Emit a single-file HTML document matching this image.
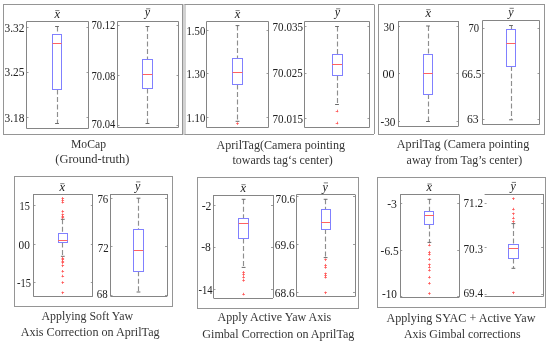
<!DOCTYPE html>
<html><head><meta charset="utf-8"><title>Box plots</title>
<style>html,body{margin:0;padding:0;background:#fff;}svg{display:block;}text{font-family:"Liberation Serif", "DejaVu Serif", serif;}</style>
</head><body>
<svg width="550" height="345" viewBox="0 0 550 345">
<rect x="0" y="0" width="550" height="345" fill="#fff"/>
<rect x="3.5" y="4.5" width="179.0" height="130.0" stroke="#959595" stroke-width="1" fill="none"/>
<line x1="26.5" y1="21.5" x2="88.5" y2="21.5" stroke="#858585" stroke-width="1" />
<line x1="26.5" y1="128.5" x2="88.5" y2="128.5" stroke="#858585" stroke-width="1" />
<line x1="88.5" y1="21.5" x2="88.5" y2="128.5" stroke="#858585" stroke-width="1" />
<line x1="26.5" y1="21.5" x2="26.5" y2="128.5" stroke="#858585" stroke-width="1" />
<line x1="26.5" y1="27.5" x2="28.5" y2="27.5" stroke="#858585" stroke-width="0.8" />
<line x1="86.5" y1="27.5" x2="88.5" y2="27.5" stroke="#858585" stroke-width="0.8" />
<line x1="26.5" y1="72.5" x2="28.5" y2="72.5" stroke="#858585" stroke-width="0.8" />
<line x1="86.5" y1="72.5" x2="88.5" y2="72.5" stroke="#858585" stroke-width="0.8" />
<line x1="26.5" y1="117.5" x2="28.5" y2="117.5" stroke="#858585" stroke-width="0.8" />
<line x1="86.5" y1="117.5" x2="88.5" y2="117.5" stroke="#858585" stroke-width="0.8" />
<text x="57.2" y="17.6" font-size="12.5" font-style="italic" text-anchor="middle" fill="#222222">x</text>
<line x1="55.2" y1="10.600000000000001" x2="59.400000000000006" y2="10.600000000000001" stroke="#444" stroke-width="0.7" />
<text x="4.5" y="31.5" font-size="13.5" textLength="20.0" lengthAdjust="spacingAndGlyphs" fill="#222222" >3.32</text>
<text x="4.5" y="75.8" font-size="13.5" textLength="20.0" lengthAdjust="spacingAndGlyphs" fill="#222222" >3.25</text>
<text x="4.5" y="121.8" font-size="13.5" textLength="20.0" lengthAdjust="spacingAndGlyphs" fill="#222222" >3.18</text>
<line x1="57.5" y1="26.5" x2="57.5" y2="34.5" stroke="#8e8e8e" stroke-width="1.15" stroke-dasharray="5,2.5"/>
<line x1="57.5" y1="89.5" x2="57.5" y2="123.5" stroke="#8e8e8e" stroke-width="1.15" stroke-dasharray="5,2.5"/>
<line x1="55.1" y1="26.5" x2="58.9" y2="26.5" stroke="#6a6a6a" stroke-width="1" />
<line x1="55.1" y1="123.5" x2="58.9" y2="123.5" stroke="#6a6a6a" stroke-width="1" />
<rect x="52.5" y="34.5" width="9.0" height="55.0" stroke="#8080ff" stroke-width="1" fill="none"/>
<line x1="52.5" y1="43.5" x2="61.5" y2="43.5" stroke="#ff6262" stroke-width="1" />
<line x1="117.5" y1="21.5" x2="178.5" y2="21.5" stroke="#858585" stroke-width="1" />
<line x1="117.5" y1="127.5" x2="178.5" y2="127.5" stroke="#858585" stroke-width="1" />
<line x1="178.5" y1="21.5" x2="178.5" y2="127.5" stroke="#858585" stroke-width="1" />
<line x1="117.5" y1="21.5" x2="117.5" y2="127.5" stroke="#858585" stroke-width="1" />
<line x1="117.5" y1="25.5" x2="119.5" y2="25.5" stroke="#858585" stroke-width="0.8" />
<line x1="176.5" y1="25.5" x2="178.5" y2="25.5" stroke="#858585" stroke-width="0.8" />
<line x1="117.5" y1="75.5" x2="119.5" y2="75.5" stroke="#858585" stroke-width="0.8" />
<line x1="176.5" y1="75.5" x2="178.5" y2="75.5" stroke="#858585" stroke-width="0.8" />
<line x1="117.5" y1="125.5" x2="119.5" y2="125.5" stroke="#858585" stroke-width="0.8" />
<line x1="176.5" y1="125.5" x2="178.5" y2="125.5" stroke="#858585" stroke-width="0.8" />
<text x="147.5" y="16.4" font-size="12" font-style="italic" text-anchor="middle" fill="#222222">y</text>
<line x1="146.1" y1="8.799999999999999" x2="150.3" y2="8.799999999999999" stroke="#444" stroke-width="0.7" />
<text x="91.6" y="29.0" font-size="13.5" textLength="23.7" lengthAdjust="spacingAndGlyphs" fill="#222222" >70.12</text>
<text x="91.6" y="79.6" font-size="13.5" textLength="23.7" lengthAdjust="spacingAndGlyphs" fill="#222222" >70.08</text>
<text x="91.6" y="128.4" font-size="13.5" textLength="23.7" lengthAdjust="spacingAndGlyphs" fill="#222222" >70.04</text>
<line x1="147.5" y1="26.5" x2="147.5" y2="59" stroke="#8e8e8e" stroke-width="1.15" stroke-dasharray="5,2.5"/>
<line x1="147.5" y1="88.5" x2="147.5" y2="123.5" stroke="#8e8e8e" stroke-width="1.15" stroke-dasharray="5,2.5"/>
<line x1="145.6" y1="26.5" x2="149.4" y2="26.5" stroke="#6a6a6a" stroke-width="1" />
<line x1="145.6" y1="123.5" x2="149.4" y2="123.5" stroke="#6a6a6a" stroke-width="1" />
<rect x="142.5" y="59.5" width="10.0" height="29.0" stroke="#8080ff" stroke-width="1" fill="none"/>
<line x1="142.7" y1="74.5" x2="152.3" y2="74.5" stroke="#ff6262" stroke-width="1" />
<text x="71.0" y="147.7" font-size="13.5" textLength="35.0" lengthAdjust="spacingAndGlyphs" fill="#353535" >MoCap</text>
<text x="55.3" y="163.0" font-size="13.5" textLength="74.1" lengthAdjust="spacingAndGlyphs" fill="#353535" >(Ground-truth)</text>
<rect x="183" y="4" width="3" height="131" fill="#d2d2d2"/>
<line x1="184.5" y1="4.5" x2="374" y2="4.5" stroke="#959595" stroke-width="1" />
<line x1="374.5" y1="4.5" x2="374.5" y2="134" stroke="#959595" stroke-width="1" />
<line x1="184.5" y1="134.5" x2="374" y2="134.5" stroke="#959595" stroke-width="1" />
<line x1="206.5" y1="21.5" x2="268.5" y2="21.5" stroke="#858585" stroke-width="1" />
<line x1="206.5" y1="127.5" x2="268.5" y2="127.5" stroke="#858585" stroke-width="1" />
<line x1="268.5" y1="21.5" x2="268.5" y2="127.5" stroke="#858585" stroke-width="1" />
<line x1="206.5" y1="21.5" x2="206.5" y2="127.5" stroke="#858585" stroke-width="1" />
<line x1="206.5" y1="30.5" x2="208.5" y2="30.5" stroke="#858585" stroke-width="0.8" />
<line x1="266.5" y1="30.5" x2="268.5" y2="30.5" stroke="#858585" stroke-width="0.8" />
<line x1="206.5" y1="73.5" x2="208.5" y2="73.5" stroke="#858585" stroke-width="0.8" />
<line x1="266.5" y1="73.5" x2="268.5" y2="73.5" stroke="#858585" stroke-width="0.8" />
<line x1="206.5" y1="117.5" x2="208.5" y2="117.5" stroke="#858585" stroke-width="0.8" />
<line x1="266.5" y1="117.5" x2="268.5" y2="117.5" stroke="#858585" stroke-width="0.8" />
<text x="237.5" y="17.6" font-size="12.5" font-style="italic" text-anchor="middle" fill="#222222">x</text>
<line x1="235.5" y1="10.600000000000001" x2="239.7" y2="10.600000000000001" stroke="#444" stroke-width="0.7" />
<text x="186.5" y="35.0" font-size="13.5" textLength="18.8" lengthAdjust="spacingAndGlyphs" fill="#222222" >1.50</text>
<text x="186.5" y="78.0" font-size="13.5" textLength="18.8" lengthAdjust="spacingAndGlyphs" fill="#222222" >1.30</text>
<text x="186.5" y="122.0" font-size="13.5" textLength="18.8" lengthAdjust="spacingAndGlyphs" fill="#222222" >1.10</text>
<line x1="237.5" y1="25.6" x2="237.5" y2="58.5" stroke="#8e8e8e" stroke-width="1.15" stroke-dasharray="5,2.5"/>
<line x1="237.5" y1="84.5" x2="237.5" y2="121.3" stroke="#8e8e8e" stroke-width="1.15" stroke-dasharray="5,2.5"/>
<line x1="235.6" y1="25.6" x2="239.4" y2="25.6" stroke="#6a6a6a" stroke-width="1" />
<line x1="235.6" y1="121.3" x2="239.4" y2="121.3" stroke="#6a6a6a" stroke-width="1" />
<rect x="232.5" y="58.5" width="10.0" height="26.0" stroke="#8080ff" stroke-width="1" fill="none"/>
<line x1="232.5" y1="72.5" x2="242.5" y2="72.5" stroke="#ff6262" stroke-width="1" />
<line x1="236.2" y1="123.5" x2="238.8" y2="123.5" stroke="#ff5050" stroke-width="0.8" />
<line x1="237.5" y1="122.3" x2="237.5" y2="124.89999999999999" stroke="#ff5050" stroke-width="0.8" />
<line x1="304.5" y1="21.5" x2="369.5" y2="21.5" stroke="#858585" stroke-width="1" />
<line x1="304.5" y1="127.5" x2="369.5" y2="127.5" stroke="#858585" stroke-width="1" />
<line x1="369.5" y1="21.5" x2="369.5" y2="127.5" stroke="#858585" stroke-width="1" />
<line x1="304.5" y1="21.5" x2="304.5" y2="127.5" stroke="#858585" stroke-width="1" />
<line x1="304.5" y1="26.5" x2="306.5" y2="26.5" stroke="#858585" stroke-width="0.8" />
<line x1="367.5" y1="26.5" x2="369.5" y2="26.5" stroke="#858585" stroke-width="0.8" />
<line x1="304.5" y1="73.5" x2="306.5" y2="73.5" stroke="#858585" stroke-width="0.8" />
<line x1="367.5" y1="73.5" x2="369.5" y2="73.5" stroke="#858585" stroke-width="0.8" />
<line x1="304.5" y1="118.5" x2="306.5" y2="118.5" stroke="#858585" stroke-width="0.8" />
<line x1="367.5" y1="118.5" x2="369.5" y2="118.5" stroke="#858585" stroke-width="0.8" />
<text x="337.5" y="16.4" font-size="12" font-style="italic" text-anchor="middle" fill="#222222">y</text>
<line x1="336.1" y1="8.799999999999999" x2="340.3" y2="8.799999999999999" stroke="#444" stroke-width="0.7" />
<text x="272.6" y="31.2" font-size="13.5" textLength="30.4" lengthAdjust="spacingAndGlyphs" fill="#222222" >70.035</text>
<text x="272.6" y="76.5" font-size="13.5" textLength="30.0" lengthAdjust="spacingAndGlyphs" fill="#222222" >70.025</text>
<text x="272.6" y="122.8" font-size="13.5" textLength="30.4" lengthAdjust="spacingAndGlyphs" fill="#222222" >70.015</text>
<line x1="337.5" y1="26.5" x2="337.5" y2="54.5" stroke="#8e8e8e" stroke-width="1.15" stroke-dasharray="5,2.5"/>
<line x1="337.5" y1="75.5" x2="337.5" y2="104.5" stroke="#8e8e8e" stroke-width="1.15" stroke-dasharray="5,2.5"/>
<line x1="335.1" y1="26.5" x2="338.9" y2="26.5" stroke="#6a6a6a" stroke-width="1" />
<line x1="335.1" y1="104.5" x2="338.9" y2="104.5" stroke="#6a6a6a" stroke-width="1" />
<rect x="332.5" y="54.5" width="10.0" height="21.0" stroke="#8080ff" stroke-width="1" fill="none"/>
<line x1="332" y1="64.5" x2="342" y2="64.5" stroke="#ff6262" stroke-width="1" />
<line x1="335.7" y1="111.5" x2="338.3" y2="111.5" stroke="#ff5050" stroke-width="0.8" />
<line x1="337.5" y1="109.7" x2="337.5" y2="112.3" stroke="#ff5050" stroke-width="0.8" />
<line x1="335.7" y1="123.5" x2="338.3" y2="123.5" stroke="#ff5050" stroke-width="0.8" />
<line x1="337.5" y1="121.7" x2="337.5" y2="124.3" stroke="#ff5050" stroke-width="0.8" />
<text x="216.5" y="148.5" font-size="13.5" textLength="128.5" lengthAdjust="spacingAndGlyphs" fill="#353535" >AprilTag(Camera pointing</text>
<text x="232.5" y="163.7" font-size="13.5" textLength="100.2" lengthAdjust="spacingAndGlyphs" fill="#353535" >towards tag‘s center)</text>
<rect x="378.5" y="4.5" width="166.0" height="130.0" stroke="#959595" stroke-width="1" fill="none"/>
<line x1="398" y1="21.5" x2="458.5" y2="21.5" stroke="#858585" stroke-width="1" />
<line x1="398" y1="126.5" x2="458.5" y2="126.5" stroke="#858585" stroke-width="1" />
<line x1="458.5" y1="21" x2="458.5" y2="126" stroke="#858585" stroke-width="1" />
<line x1="398.5" y1="21" x2="398.5" y2="126" stroke="#858585" stroke-width="1" />
<line x1="398" y1="26.5" x2="400" y2="26.5" stroke="#858585" stroke-width="0.8" />
<line x1="456.5" y1="26.5" x2="458.5" y2="26.5" stroke="#858585" stroke-width="0.8" />
<line x1="398" y1="73.5" x2="400" y2="73.5" stroke="#858585" stroke-width="0.8" />
<line x1="456.5" y1="73.5" x2="458.5" y2="73.5" stroke="#858585" stroke-width="0.8" />
<line x1="398" y1="121.5" x2="400" y2="121.5" stroke="#858585" stroke-width="0.8" />
<line x1="456.5" y1="121.5" x2="458.5" y2="121.5" stroke="#858585" stroke-width="0.8" />
<text x="428.2" y="16.7" font-size="12.5" font-style="italic" text-anchor="middle" fill="#222222">x</text>
<line x1="426.2" y1="9.7" x2="430.4" y2="9.7" stroke="#444" stroke-width="0.7" />
<text x="383.5" y="31.0" font-size="13.5" textLength="11.0" lengthAdjust="spacingAndGlyphs" fill="#222222" >30</text>
<text x="382.6" y="78.2" font-size="13.5" textLength="12.0" lengthAdjust="spacingAndGlyphs" fill="#222222" >00</text>
<text x="380.4" y="125.6" font-size="13.5" textLength="15.0" lengthAdjust="spacingAndGlyphs" fill="#222222" >-30</text>
<line x1="428.5" y1="26" x2="428.5" y2="54.8" stroke="#8e8e8e" stroke-width="1.15" stroke-dasharray="5,2.5"/>
<line x1="428.5" y1="94.1" x2="428.5" y2="121.5" stroke="#8e8e8e" stroke-width="1.15" stroke-dasharray="5,2.5"/>
<line x1="426.1" y1="26" x2="429.9" y2="26" stroke="#6a6a6a" stroke-width="1" />
<line x1="426.1" y1="121.5" x2="429.9" y2="121.5" stroke="#6a6a6a" stroke-width="1" />
<rect x="423.5" y="54.5" width="9.0" height="40.0" stroke="#8080ff" stroke-width="1" fill="none"/>
<line x1="423.4" y1="73.5" x2="432.6" y2="73.5" stroke="#ff6262" stroke-width="1" />
<line x1="482.5" y1="20.5" x2="539.5" y2="20.5" stroke="#858585" stroke-width="1" />
<line x1="482.5" y1="124.5" x2="539.5" y2="124.5" stroke="#858585" stroke-width="1" />
<line x1="539.5" y1="20.5" x2="539.5" y2="124.5" stroke="#858585" stroke-width="1" />
<line x1="482.5" y1="20.5" x2="482.5" y2="124.5" stroke="#858585" stroke-width="1" />
<line x1="482.5" y1="28.5" x2="484.5" y2="28.5" stroke="#858585" stroke-width="0.8" />
<line x1="537.5" y1="28.5" x2="539.5" y2="28.5" stroke="#858585" stroke-width="0.8" />
<line x1="482.5" y1="73.5" x2="484.5" y2="73.5" stroke="#858585" stroke-width="0.8" />
<line x1="537.5" y1="73.5" x2="539.5" y2="73.5" stroke="#858585" stroke-width="0.8" />
<line x1="482.5" y1="119.5" x2="484.5" y2="119.5" stroke="#858585" stroke-width="0.8" />
<line x1="537.5" y1="119.5" x2="539.5" y2="119.5" stroke="#858585" stroke-width="0.8" />
<text x="511.0" y="15.9" font-size="12" font-style="italic" text-anchor="middle" fill="#222222">y</text>
<line x1="509.6" y1="8.299999999999999" x2="513.8" y2="8.299999999999999" stroke="#444" stroke-width="0.7" />
<text x="468.4" y="32.2" font-size="13.5" textLength="10.6" lengthAdjust="spacingAndGlyphs" fill="#222222" >70</text>
<text x="461.7" y="77.8" font-size="13.5" textLength="19.6" lengthAdjust="spacingAndGlyphs" fill="#222222" >66.5</text>
<text x="467.0" y="123.3" font-size="13.5" textLength="11.7" lengthAdjust="spacingAndGlyphs" fill="#222222" >63</text>
<line x1="511.5" y1="25.5" x2="511.5" y2="29.4" stroke="#8e8e8e" stroke-width="1.15" stroke-dasharray="5,2.5"/>
<line x1="511.5" y1="66" x2="511.5" y2="119.8" stroke="#8e8e8e" stroke-width="1.15" stroke-dasharray="5,2.5"/>
<line x1="509.1" y1="25.5" x2="512.9" y2="25.5" stroke="#6a6a6a" stroke-width="1" />
<line x1="509.1" y1="119.8" x2="512.9" y2="119.8" stroke="#6a6a6a" stroke-width="1" />
<rect x="506.5" y="29.5" width="9.0" height="37.0" stroke="#8080ff" stroke-width="1" fill="none"/>
<line x1="506.4" y1="43.5" x2="515.6" y2="43.5" stroke="#ff6262" stroke-width="1" />
<text x="396.8" y="147.9" font-size="13.5" textLength="132.5" lengthAdjust="spacingAndGlyphs" fill="#353535" >AprilTag (Camera pointing</text>
<text x="406.6" y="163.6" font-size="13.5" textLength="115.7" lengthAdjust="spacingAndGlyphs" fill="#353535" >away from Tag’s center)</text>
<rect x="14.5" y="176.5" width="158.0" height="130.0" stroke="#959595" stroke-width="1" fill="none"/>
<line x1="33.5" y1="194.5" x2="92.8" y2="194.5" stroke="#858585" stroke-width="1" />
<line x1="33.5" y1="296.5" x2="92.8" y2="296.5" stroke="#858585" stroke-width="1" />
<line x1="92.5" y1="194" x2="92.5" y2="296.7" stroke="#858585" stroke-width="1" />
<line x1="33.5" y1="194" x2="33.5" y2="296.7" stroke="#858585" stroke-width="1" />
<line x1="33.5" y1="205.5" x2="35.5" y2="205.5" stroke="#858585" stroke-width="0.8" />
<line x1="90.8" y1="205.5" x2="92.8" y2="205.5" stroke="#858585" stroke-width="0.8" />
<line x1="33.5" y1="244.5" x2="35.5" y2="244.5" stroke="#858585" stroke-width="0.8" />
<line x1="90.8" y1="244.5" x2="92.8" y2="244.5" stroke="#858585" stroke-width="0.8" />
<line x1="33.5" y1="282.5" x2="35.5" y2="282.5" stroke="#858585" stroke-width="0.8" />
<line x1="90.8" y1="282.5" x2="92.8" y2="282.5" stroke="#858585" stroke-width="0.8" />
<text x="62.2" y="190.7" font-size="12.5" font-style="italic" text-anchor="middle" fill="#222222">x</text>
<line x1="60.2" y1="183.7" x2="64.4" y2="183.7" stroke="#444" stroke-width="0.7" />
<text x="19.6" y="210.4" font-size="13.5" textLength="10.2" lengthAdjust="spacingAndGlyphs" fill="#222222" >15</text>
<text x="18.5" y="248.6" font-size="13.5" textLength="11.3" lengthAdjust="spacingAndGlyphs" fill="#222222" >00</text>
<text x="17.0" y="287.0" font-size="13.5" textLength="13.9" lengthAdjust="spacingAndGlyphs" fill="#222222" >-15</text>
<line x1="62.5" y1="219.3" x2="62.5" y2="233.3" stroke="#8e8e8e" stroke-width="1.15" stroke-dasharray="5,2.5"/>
<line x1="62.5" y1="242.5" x2="62.5" y2="256.3" stroke="#8e8e8e" stroke-width="1.15" stroke-dasharray="5,2.5"/>
<line x1="60.9" y1="219.3" x2="64.7" y2="219.3" stroke="#6a6a6a" stroke-width="1" />
<line x1="60.9" y1="256.3" x2="64.7" y2="256.3" stroke="#6a6a6a" stroke-width="1" />
<rect x="58.5" y="233.5" width="9.0" height="9.0" stroke="#8080ff" stroke-width="1" fill="none"/>
<line x1="58.099999999999994" y1="240.5" x2="67.5" y2="240.5" stroke="#ff6262" stroke-width="1" />
<line x1="61.5" y1="198.5" x2="64.1" y2="198.5" stroke="#ff5050" stroke-width="0.8" />
<line x1="62.5" y1="197.1" x2="62.5" y2="199.70000000000002" stroke="#ff5050" stroke-width="0.8" />
<line x1="61.5" y1="200.5" x2="64.1" y2="200.5" stroke="#ff5050" stroke-width="0.8" />
<line x1="62.5" y1="198.79999999999998" x2="62.5" y2="201.4" stroke="#ff5050" stroke-width="0.8" />
<line x1="61.5" y1="202.5" x2="64.1" y2="202.5" stroke="#ff5050" stroke-width="0.8" />
<line x1="62.5" y1="200.89999999999998" x2="62.5" y2="203.5" stroke="#ff5050" stroke-width="0.8" />
<line x1="61.5" y1="211.5" x2="64.1" y2="211.5" stroke="#ff5050" stroke-width="0.8" />
<line x1="62.5" y1="210.2" x2="62.5" y2="212.8" stroke="#ff5050" stroke-width="0.8" />
<line x1="61.5" y1="214.5" x2="64.1" y2="214.5" stroke="#ff5050" stroke-width="0.8" />
<line x1="62.5" y1="213.5" x2="62.5" y2="216.10000000000002" stroke="#ff5050" stroke-width="0.8" />
<line x1="61.5" y1="216.5" x2="64.1" y2="216.5" stroke="#ff5050" stroke-width="0.8" />
<line x1="62.5" y1="215.0" x2="62.5" y2="217.60000000000002" stroke="#ff5050" stroke-width="0.8" />
<line x1="61.5" y1="217.5" x2="64.1" y2="217.5" stroke="#ff5050" stroke-width="0.8" />
<line x1="62.5" y1="216.5" x2="62.5" y2="219.10000000000002" stroke="#ff5050" stroke-width="0.8" />
<line x1="61.5" y1="258.5" x2="64.1" y2="258.5" stroke="#ff5050" stroke-width="0.8" />
<line x1="62.5" y1="256.7" x2="62.5" y2="259.3" stroke="#ff5050" stroke-width="0.8" />
<line x1="61.5" y1="259.5" x2="64.1" y2="259.5" stroke="#ff5050" stroke-width="0.8" />
<line x1="62.5" y1="258.2" x2="62.5" y2="260.8" stroke="#ff5050" stroke-width="0.8" />
<line x1="61.5" y1="261.5" x2="64.1" y2="261.5" stroke="#ff5050" stroke-width="0.8" />
<line x1="62.5" y1="259.7" x2="62.5" y2="262.3" stroke="#ff5050" stroke-width="0.8" />
<line x1="61.5" y1="262.5" x2="64.1" y2="262.5" stroke="#ff5050" stroke-width="0.8" />
<line x1="62.5" y1="261.5" x2="62.5" y2="264.1" stroke="#ff5050" stroke-width="0.8" />
<line x1="61.5" y1="265.5" x2="64.1" y2="265.5" stroke="#ff5050" stroke-width="0.8" />
<line x1="62.5" y1="264.5" x2="62.5" y2="267.1" stroke="#ff5050" stroke-width="0.8" />
<line x1="61.5" y1="271.5" x2="64.1" y2="271.5" stroke="#ff5050" stroke-width="0.8" />
<line x1="62.5" y1="270.0" x2="62.5" y2="272.6" stroke="#ff5050" stroke-width="0.8" />
<line x1="61.5" y1="276.5" x2="64.1" y2="276.5" stroke="#ff5050" stroke-width="0.8" />
<line x1="62.5" y1="274.7" x2="62.5" y2="277.3" stroke="#ff5050" stroke-width="0.8" />
<line x1="61.5" y1="282.5" x2="64.1" y2="282.5" stroke="#ff5050" stroke-width="0.8" />
<line x1="62.5" y1="281.3" x2="62.5" y2="283.90000000000003" stroke="#ff5050" stroke-width="0.8" />
<line x1="61.5" y1="292.5" x2="64.1" y2="292.5" stroke="#ff5050" stroke-width="0.8" />
<line x1="62.5" y1="291.5" x2="62.5" y2="294.1" stroke="#ff5050" stroke-width="0.8" />
<line x1="110.5" y1="194.5" x2="167" y2="194.5" stroke="#858585" stroke-width="1" />
<line x1="110.5" y1="296.5" x2="167" y2="296.5" stroke="#858585" stroke-width="1" />
<line x1="167.5" y1="194" x2="167.5" y2="296.3" stroke="#858585" stroke-width="1" />
<line x1="110.5" y1="194" x2="110.5" y2="296.3" stroke="#858585" stroke-width="1" />
<line x1="110.5" y1="198.5" x2="112.5" y2="198.5" stroke="#858585" stroke-width="0.8" />
<line x1="165" y1="198.5" x2="167" y2="198.5" stroke="#858585" stroke-width="0.8" />
<line x1="110.5" y1="246.5" x2="112.5" y2="246.5" stroke="#858585" stroke-width="0.8" />
<line x1="165" y1="246.5" x2="167" y2="246.5" stroke="#858585" stroke-width="0.8" />
<line x1="110.5" y1="295.5" x2="112.5" y2="295.5" stroke="#858585" stroke-width="0.8" />
<line x1="165" y1="295.5" x2="167" y2="295.5" stroke="#858585" stroke-width="0.8" />
<text x="137.6" y="189.5" font-size="12" font-style="italic" text-anchor="middle" fill="#222222">y</text>
<line x1="136.2" y1="181.9" x2="140.4" y2="181.9" stroke="#444" stroke-width="0.7" />
<text x="97.4" y="203.4" font-size="13.5" textLength="10.9" lengthAdjust="spacingAndGlyphs" fill="#222222" >76</text>
<text x="97.8" y="251.8" font-size="13.5" textLength="10.9" lengthAdjust="spacingAndGlyphs" fill="#222222" >72</text>
<text x="96.7" y="298.3" font-size="13.5" textLength="10.9" lengthAdjust="spacingAndGlyphs" fill="#222222" >68</text>
<line x1="138.5" y1="198.2" x2="138.5" y2="229" stroke="#8e8e8e" stroke-width="1.15" stroke-dasharray="5,2.5"/>
<line x1="138.5" y1="271.3" x2="138.5" y2="292" stroke="#8e8e8e" stroke-width="1.15" stroke-dasharray="5,2.5"/>
<line x1="136.6" y1="198.2" x2="140.4" y2="198.2" stroke="#6a6a6a" stroke-width="1" />
<line x1="136.6" y1="292" x2="140.4" y2="292" stroke="#6a6a6a" stroke-width="1" />
<rect x="133.5" y="229.5" width="10.0" height="42.0" stroke="#8080ff" stroke-width="1" fill="none"/>
<line x1="133.8" y1="250.5" x2="143.2" y2="250.5" stroke="#ff6262" stroke-width="1" />
<text x="41.5" y="320.4" font-size="13.5" textLength="91.5" lengthAdjust="spacingAndGlyphs" fill="#353535" >Applying Soft Yaw</text>
<text x="20.7" y="335.6" font-size="13.5" textLength="138.9" lengthAdjust="spacingAndGlyphs" fill="#353535" >Axis Correction on AprilTag</text>
<rect x="197.5" y="177.5" width="161.0" height="131.0" stroke="#959595" stroke-width="1" fill="none"/>
<line x1="213.5" y1="195.5" x2="273" y2="195.5" stroke="#858585" stroke-width="1" />
<line x1="213.5" y1="298.5" x2="273" y2="298.5" stroke="#858585" stroke-width="1" />
<line x1="273.5" y1="195" x2="273.5" y2="298" stroke="#858585" stroke-width="1" />
<line x1="213.5" y1="195" x2="213.5" y2="298" stroke="#858585" stroke-width="1" />
<line x1="213.5" y1="205.5" x2="215.5" y2="205.5" stroke="#858585" stroke-width="0.8" />
<line x1="271" y1="205.5" x2="273" y2="205.5" stroke="#858585" stroke-width="0.8" />
<line x1="213.5" y1="247.5" x2="215.5" y2="247.5" stroke="#858585" stroke-width="0.8" />
<line x1="271" y1="247.5" x2="273" y2="247.5" stroke="#858585" stroke-width="0.8" />
<line x1="213.5" y1="289.5" x2="215.5" y2="289.5" stroke="#858585" stroke-width="0.8" />
<line x1="271" y1="289.5" x2="273" y2="289.5" stroke="#858585" stroke-width="0.8" />
<text x="243.4" y="191.7" font-size="12.5" font-style="italic" text-anchor="middle" fill="#222222">x</text>
<line x1="241.4" y1="184.7" x2="245.6" y2="184.7" stroke="#444" stroke-width="0.7" />
<text x="201.7" y="210.3" font-size="13.5" textLength="9.8" lengthAdjust="spacingAndGlyphs" fill="#222222" >-2</text>
<text x="201.2" y="250.6" font-size="13.5" textLength="9.6" lengthAdjust="spacingAndGlyphs" fill="#222222" >-8</text>
<text x="198.5" y="294.3" font-size="13.5" textLength="14.1" lengthAdjust="spacingAndGlyphs" fill="#222222" >-14</text>
<line x1="243.5" y1="199.3" x2="243.5" y2="218.3" stroke="#8e8e8e" stroke-width="1.15" stroke-dasharray="5,2.5"/>
<line x1="243.5" y1="238.6" x2="243.5" y2="267.4" stroke="#8e8e8e" stroke-width="1.15" stroke-dasharray="5,2.5"/>
<line x1="241.7" y1="199.3" x2="245.5" y2="199.3" stroke="#6a6a6a" stroke-width="1" />
<line x1="241.7" y1="267.4" x2="245.5" y2="267.4" stroke="#6a6a6a" stroke-width="1" />
<rect x="238.5" y="218.5" width="10.0" height="20.0" stroke="#8080ff" stroke-width="1" fill="none"/>
<line x1="238.7" y1="223.5" x2="248.5" y2="223.5" stroke="#ff6262" stroke-width="1" />
<line x1="242.29999999999998" y1="272.5" x2="244.9" y2="272.5" stroke="#ff5050" stroke-width="0.8" />
<line x1="243.5" y1="271.09999999999997" x2="243.5" y2="273.7" stroke="#ff5050" stroke-width="0.8" />
<line x1="242.29999999999998" y1="274.5" x2="244.9" y2="274.5" stroke="#ff5050" stroke-width="0.8" />
<line x1="243.5" y1="273.3" x2="243.5" y2="275.90000000000003" stroke="#ff5050" stroke-width="0.8" />
<line x1="242.29999999999998" y1="277.5" x2="244.9" y2="277.5" stroke="#ff5050" stroke-width="0.8" />
<line x1="243.5" y1="275.9" x2="243.5" y2="278.5" stroke="#ff5050" stroke-width="0.8" />
<line x1="242.29999999999998" y1="280.5" x2="244.9" y2="280.5" stroke="#ff5050" stroke-width="0.8" />
<line x1="243.5" y1="279.09999999999997" x2="243.5" y2="281.7" stroke="#ff5050" stroke-width="0.8" />
<line x1="242.29999999999998" y1="294.5" x2="244.9" y2="294.5" stroke="#ff5050" stroke-width="0.8" />
<line x1="243.5" y1="292.8" x2="243.5" y2="295.40000000000003" stroke="#ff5050" stroke-width="0.8" />
<line x1="296.5" y1="194.5" x2="355" y2="194.5" stroke="#858585" stroke-width="1" />
<line x1="296.5" y1="296.5" x2="355" y2="296.5" stroke="#858585" stroke-width="1" />
<line x1="355.5" y1="194.5" x2="355.5" y2="296.7" stroke="#858585" stroke-width="1" />
<line x1="296.5" y1="194.5" x2="296.5" y2="296.7" stroke="#858585" stroke-width="1" />
<line x1="296.5" y1="196.5" x2="298.5" y2="196.5" stroke="#858585" stroke-width="0.8" />
<line x1="353" y1="196.5" x2="355" y2="196.5" stroke="#858585" stroke-width="0.8" />
<line x1="296.5" y1="244.5" x2="298.5" y2="244.5" stroke="#858585" stroke-width="0.8" />
<line x1="353" y1="244.5" x2="355" y2="244.5" stroke="#858585" stroke-width="0.8" />
<line x1="296.5" y1="292.5" x2="298.5" y2="292.5" stroke="#858585" stroke-width="0.8" />
<line x1="353" y1="292.5" x2="355" y2="292.5" stroke="#858585" stroke-width="0.8" />
<text x="325.2" y="190.5" font-size="12" font-style="italic" text-anchor="middle" fill="#222222">y</text>
<line x1="323.8" y1="182.9" x2="328.0" y2="182.9" stroke="#444" stroke-width="0.7" />
<text x="275.5" y="202.8" font-size="13.5" textLength="19.7" lengthAdjust="spacingAndGlyphs" fill="#222222" >70.6</text>
<text x="274.8" y="248.5" font-size="13.5" textLength="20.0" lengthAdjust="spacingAndGlyphs" fill="#222222" >69.6</text>
<text x="274.8" y="296.8" font-size="13.5" textLength="20.0" lengthAdjust="spacingAndGlyphs" fill="#222222" >68.6</text>
<line x1="325.5" y1="199.3" x2="325.5" y2="209.6" stroke="#8e8e8e" stroke-width="1.15" stroke-dasharray="5,2.5"/>
<line x1="325.5" y1="229" x2="325.5" y2="257.6" stroke="#8e8e8e" stroke-width="1.15" stroke-dasharray="5,2.5"/>
<line x1="323.70000000000005" y1="199.3" x2="327.5" y2="199.3" stroke="#6a6a6a" stroke-width="1" />
<line x1="323.70000000000005" y1="257.6" x2="327.5" y2="257.6" stroke="#6a6a6a" stroke-width="1" />
<rect x="321.5" y="209.5" width="9.0" height="20.0" stroke="#8080ff" stroke-width="1" fill="none"/>
<line x1="321.20000000000005" y1="222.5" x2="330.0" y2="222.5" stroke="#ff6262" stroke-width="1" />
<line x1="324.3" y1="259.5" x2="326.90000000000003" y2="259.5" stroke="#ff5050" stroke-width="0.8" />
<line x1="325.5" y1="258.5" x2="325.5" y2="261.1" stroke="#ff5050" stroke-width="0.8" />
<line x1="324.3" y1="265.5" x2="326.90000000000003" y2="265.5" stroke="#ff5050" stroke-width="0.8" />
<line x1="325.5" y1="263.9" x2="325.5" y2="266.5" stroke="#ff5050" stroke-width="0.8" />
<line x1="324.3" y1="267.5" x2="326.90000000000003" y2="267.5" stroke="#ff5050" stroke-width="0.8" />
<line x1="325.5" y1="266.09999999999997" x2="325.5" y2="268.7" stroke="#ff5050" stroke-width="0.8" />
<line x1="324.3" y1="273.5" x2="326.90000000000003" y2="273.5" stroke="#ff5050" stroke-width="0.8" />
<line x1="325.5" y1="272.59999999999997" x2="325.5" y2="275.2" stroke="#ff5050" stroke-width="0.8" />
<line x1="324.3" y1="275.5" x2="326.90000000000003" y2="275.5" stroke="#ff5050" stroke-width="0.8" />
<line x1="325.5" y1="274.2" x2="325.5" y2="276.8" stroke="#ff5050" stroke-width="0.8" />
<line x1="324.3" y1="277.5" x2="326.90000000000003" y2="277.5" stroke="#ff5050" stroke-width="0.8" />
<line x1="325.5" y1="275.9" x2="325.5" y2="278.5" stroke="#ff5050" stroke-width="0.8" />
<line x1="324.3" y1="292.5" x2="326.90000000000003" y2="292.5" stroke="#ff5050" stroke-width="0.8" />
<line x1="325.5" y1="291.5" x2="325.5" y2="294.1" stroke="#ff5050" stroke-width="0.8" />
<text x="217.6" y="321.3" font-size="13.5" textLength="113.7" lengthAdjust="spacingAndGlyphs" fill="#353535" >Apply Active Yaw Axis</text>
<text x="202.3" y="337.5" font-size="13.5" textLength="152.1" lengthAdjust="spacingAndGlyphs" fill="#353535" >Gimbal Correction on AprilTag</text>
<rect x="377.5" y="177.5" width="168.0" height="130.0" stroke="#959595" stroke-width="1" fill="none"/>
<line x1="400.2" y1="194.5" x2="459.2" y2="194.5" stroke="#858585" stroke-width="1" />
<line x1="400.2" y1="297.5" x2="459.2" y2="297.5" stroke="#858585" stroke-width="1" />
<line x1="459.5" y1="194.3" x2="459.5" y2="297.2" stroke="#858585" stroke-width="1" />
<line x1="400.5" y1="194.3" x2="400.5" y2="297.2" stroke="#858585" stroke-width="1" />
<line x1="400.2" y1="203.5" x2="402.2" y2="203.5" stroke="#858585" stroke-width="0.8" />
<line x1="457.2" y1="203.5" x2="459.2" y2="203.5" stroke="#858585" stroke-width="0.8" />
<line x1="400.2" y1="250.5" x2="402.2" y2="250.5" stroke="#858585" stroke-width="0.8" />
<line x1="457.2" y1="250.5" x2="459.2" y2="250.5" stroke="#858585" stroke-width="0.8" />
<line x1="400.2" y1="296.5" x2="402.2" y2="296.5" stroke="#858585" stroke-width="0.8" />
<line x1="457.2" y1="296.5" x2="459.2" y2="296.5" stroke="#858585" stroke-width="0.8" />
<text x="429.4" y="191.0" font-size="12.5" font-style="italic" text-anchor="middle" fill="#222222">x</text>
<line x1="427.4" y1="184.0" x2="431.59999999999997" y2="184.0" stroke="#444" stroke-width="0.7" />
<text x="387.2" y="208.3" font-size="13.5" textLength="9.8" lengthAdjust="spacingAndGlyphs" fill="#222222" >-3</text>
<text x="380.6" y="255.2" font-size="13.5" textLength="18.1" lengthAdjust="spacingAndGlyphs" fill="#222222" >-6.5</text>
<text x="382.0" y="297.6" font-size="13.5" textLength="15.0" lengthAdjust="spacingAndGlyphs" fill="#222222" >-10</text>
<line x1="429.5" y1="199.3" x2="429.5" y2="211.3" stroke="#8e8e8e" stroke-width="1.15" stroke-dasharray="5,2.5"/>
<line x1="429.5" y1="224.1" x2="429.5" y2="242.4" stroke="#8e8e8e" stroke-width="1.15" stroke-dasharray="5,2.5"/>
<line x1="427.5" y1="199.3" x2="431.29999999999995" y2="199.3" stroke="#6a6a6a" stroke-width="1" />
<line x1="427.5" y1="242.4" x2="431.29999999999995" y2="242.4" stroke="#6a6a6a" stroke-width="1" />
<rect x="424.5" y="211.5" width="9.0" height="13.0" stroke="#8080ff" stroke-width="1" fill="none"/>
<line x1="424.79999999999995" y1="215.5" x2="434.0" y2="215.5" stroke="#ff6262" stroke-width="1" />
<line x1="428.09999999999997" y1="245.5" x2="430.7" y2="245.5" stroke="#ff5050" stroke-width="0.8" />
<line x1="429.5" y1="243.7" x2="429.5" y2="246.3" stroke="#ff5050" stroke-width="0.8" />
<line x1="428.09999999999997" y1="252.5" x2="430.7" y2="252.5" stroke="#ff5050" stroke-width="0.8" />
<line x1="429.5" y1="250.89999999999998" x2="429.5" y2="253.5" stroke="#ff5050" stroke-width="0.8" />
<line x1="428.09999999999997" y1="254.5" x2="430.7" y2="254.5" stroke="#ff5050" stroke-width="0.8" />
<line x1="429.5" y1="253.0" x2="429.5" y2="255.60000000000002" stroke="#ff5050" stroke-width="0.8" />
<line x1="428.09999999999997" y1="259.5" x2="430.7" y2="259.5" stroke="#ff5050" stroke-width="0.8" />
<line x1="429.5" y1="258.0" x2="429.5" y2="260.6" stroke="#ff5050" stroke-width="0.8" />
<line x1="428.09999999999997" y1="264.5" x2="430.7" y2="264.5" stroke="#ff5050" stroke-width="0.8" />
<line x1="429.5" y1="263.5" x2="429.5" y2="266.1" stroke="#ff5050" stroke-width="0.8" />
<line x1="428.09999999999997" y1="267.5" x2="430.7" y2="267.5" stroke="#ff5050" stroke-width="0.8" />
<line x1="429.5" y1="265.7" x2="429.5" y2="268.3" stroke="#ff5050" stroke-width="0.8" />
<line x1="428.09999999999997" y1="270.5" x2="430.7" y2="270.5" stroke="#ff5050" stroke-width="0.8" />
<line x1="429.5" y1="268.9" x2="429.5" y2="271.5" stroke="#ff5050" stroke-width="0.8" />
<line x1="428.09999999999997" y1="277.5" x2="430.7" y2="277.5" stroke="#ff5050" stroke-width="0.8" />
<line x1="429.5" y1="275.9" x2="429.5" y2="278.5" stroke="#ff5050" stroke-width="0.8" />
<line x1="428.09999999999997" y1="283.5" x2="430.7" y2="283.5" stroke="#ff5050" stroke-width="0.8" />
<line x1="429.5" y1="282.0" x2="429.5" y2="284.6" stroke="#ff5050" stroke-width="0.8" />
<line x1="428.09999999999997" y1="293.5" x2="430.7" y2="293.5" stroke="#ff5050" stroke-width="0.8" />
<line x1="429.5" y1="292.2" x2="429.5" y2="294.8" stroke="#ff5050" stroke-width="0.8" />
<line x1="484.6" y1="194.5" x2="543.2" y2="194.5" stroke="#858585" stroke-width="1" />
<line x1="484.6" y1="296.5" x2="543.2" y2="296.5" stroke="#858585" stroke-width="1" />
<line x1="543.5" y1="194" x2="543.5" y2="296.7" stroke="#858585" stroke-width="1" />
<line x1="484.6" y1="203.5" x2="486.6" y2="203.5" stroke="#858585" stroke-width="0.8" />
<line x1="541.2" y1="203.5" x2="543.2" y2="203.5" stroke="#858585" stroke-width="0.8" />
<line x1="484.6" y1="247.5" x2="486.6" y2="247.5" stroke="#858585" stroke-width="0.8" />
<line x1="541.2" y1="247.5" x2="543.2" y2="247.5" stroke="#858585" stroke-width="0.8" />
<line x1="484.6" y1="294.5" x2="486.6" y2="294.5" stroke="#858585" stroke-width="0.8" />
<line x1="541.2" y1="294.5" x2="543.2" y2="294.5" stroke="#858585" stroke-width="0.8" />
<text x="513.2" y="190.0" font-size="12" font-style="italic" text-anchor="middle" fill="#222222">y</text>
<line x1="511.80000000000007" y1="182.4" x2="516.0" y2="182.4" stroke="#444" stroke-width="0.7" />
<text x="463.5" y="207.4" font-size="13.5" textLength="19.5" lengthAdjust="spacingAndGlyphs" fill="#222222" >71.2</text>
<text x="463.5" y="252.8" font-size="13.5" textLength="19.5" lengthAdjust="spacingAndGlyphs" fill="#222222" >70.3</text>
<text x="463.5" y="297.3" font-size="13.5" textLength="19.5" lengthAdjust="spacingAndGlyphs" fill="#222222" >69.4</text>
<line x1="513.5" y1="223.6" x2="513.5" y2="244.1" stroke="#8e8e8e" stroke-width="1.15" stroke-dasharray="5,2.5"/>
<line x1="513.5" y1="258.4" x2="513.5" y2="268.3" stroke="#8e8e8e" stroke-width="1.15" stroke-dasharray="5,2.5"/>
<line x1="511.5" y1="223.6" x2="515.3" y2="223.6" stroke="#6a6a6a" stroke-width="1" />
<line x1="511.5" y1="268.3" x2="515.3" y2="268.3" stroke="#6a6a6a" stroke-width="1" />
<rect x="508.5" y="244.5" width="10.0" height="14.0" stroke="#8080ff" stroke-width="1" fill="none"/>
<line x1="508.5" y1="248.5" x2="518.3" y2="248.5" stroke="#ff6262" stroke-width="1" />
<line x1="512.1" y1="198.5" x2="514.6999999999999" y2="198.5" stroke="#ff5050" stroke-width="0.8" />
<line x1="513.5" y1="197.39999999999998" x2="513.5" y2="200.0" stroke="#ff5050" stroke-width="0.8" />
<line x1="512.1" y1="209.5" x2="514.6999999999999" y2="209.5" stroke="#ff5050" stroke-width="0.8" />
<line x1="513.5" y1="207.79999999999998" x2="513.5" y2="210.4" stroke="#ff5050" stroke-width="0.8" />
<line x1="512.1" y1="213.5" x2="514.6999999999999" y2="213.5" stroke="#ff5050" stroke-width="0.8" />
<line x1="513.5" y1="212.6" x2="513.5" y2="215.20000000000002" stroke="#ff5050" stroke-width="0.8" />
<line x1="512.1" y1="218.5" x2="514.6999999999999" y2="218.5" stroke="#ff5050" stroke-width="0.8" />
<line x1="513.5" y1="216.7" x2="513.5" y2="219.3" stroke="#ff5050" stroke-width="0.8" />
<line x1="512.1" y1="221.5" x2="514.6999999999999" y2="221.5" stroke="#ff5050" stroke-width="0.8" />
<line x1="513.5" y1="220.29999999999998" x2="513.5" y2="222.9" stroke="#ff5050" stroke-width="0.8" />
<line x1="512.1" y1="292.5" x2="514.6999999999999" y2="292.5" stroke="#ff5050" stroke-width="0.8" />
<line x1="513.5" y1="291.5" x2="513.5" y2="294.1" stroke="#ff5050" stroke-width="0.8" />
<text x="386.4" y="321.8" font-size="13.5" textLength="149.1" lengthAdjust="spacingAndGlyphs" fill="#353535" >Applying SYAC + Active Yaw</text>
<text x="404.0" y="337.5" font-size="13.5" textLength="116.6" lengthAdjust="spacingAndGlyphs" fill="#353535" >Axis Gimbal corrections</text>
</svg>
</body></html>
